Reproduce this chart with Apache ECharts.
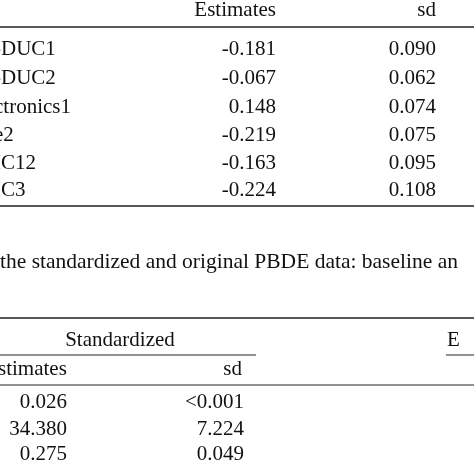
<!DOCTYPE html>
<html><head><meta charset="utf-8">
<script src="https://cdn.jsdelivr.net/npm/echarts@6/dist/echarts.min.js"></script>
<style>html,body{margin:0;background:#fff}#c{width:474px;height:474px}</style>
</head><body><div id="c"></div>
<script>
// top table (left edge cropped)
var topLabels = ['-DUC1', '-DUC2', 'ctronics1', 'e2', 'IC12', 'IC3'];
var topEstimates = ['-0.181', '-0.067', '0.148', '-0.219', '-0.163', '-0.224'];
var topSd = ['0.090', '0.062', '0.074', '0.075', '0.095', '0.108'];
var caption = 'the standardized and original PBDE data: baseline an';
// bottom table
var botEstimates = ['0.026', '34.380', '0.275', ''];
var botSd = ['<0.001', '7.224', '0.049', ''];

var font = '"Liberation Serif", "DejaVu Serif", serif';
var chart = echarts.init(document.getElementById('c'));
var g = [];
function txt(x, y, s, align, size) {
  g.push({ type: 'text', x: x, y: y, style: { text: s, font: (size || 21) + 'px ' + font, fill: '#111', align: align || 'left', verticalAlign: 'middle' } });
}
function line(x1, y, x2, w) {
  g.push({ type: 'line', shape: { x1: x1, y1: y, x2: x2, y2: y }, style: { stroke: '#222', lineWidth: w || 1 } });
}

txt(276, 10, 'Estimates', 'right');
txt(436, 10, 'sd', 'right');
line(0, 27, 474, 1.5);
var rowY = [49, 78, 107, 135, 163, 190];
topLabels.forEach(function (l, i) {
  txt(-6, rowY[i], l);
  txt(276, rowY[i], topEstimates[i], 'right');
  txt(436, rowY[i], topSd[i], 'right');
});
line(0, 206, 474, 1.5);

txt(0, 262, caption, 'left', 21.5);

line(0, 318, 474, 1.5);
txt(120, 340, 'Standardized', 'center');
line(0, 355, 256, 1);
txt(447, 340, 'E');
line(446, 355, 474, 1);
txt(-2, 369, 'stimates');
txt(242, 369, 'sd', 'right');
line(0, 385, 474, 1);
var botY = [402, 429, 454, 478];
botEstimates.forEach(function (v, i) {
  txt(67, botY[i], v, 'right');
  txt(244, botY[i], botSd[i], 'right');
});

chart.setOption({ animation: false, graphic: g });
</script></body></html>
